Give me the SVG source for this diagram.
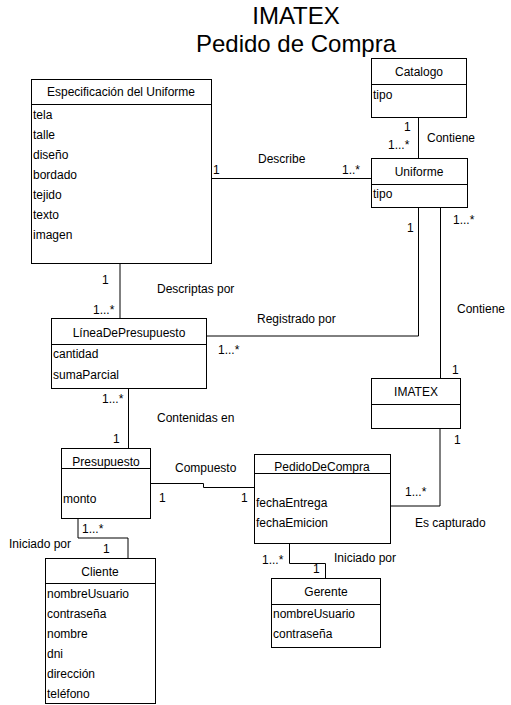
<svg xmlns="http://www.w3.org/2000/svg" width="511" height="705" viewBox="0 0 511 705">
<style>
text{font-family:"Liberation Sans",Arial,sans-serif;font-size:12px;fill:#000}
.t{font-size:24px;text-anchor:middle}
.c{text-anchor:middle}
.box{fill:#fff;stroke:#000;stroke-width:1}
.ln{fill:none;stroke:#000;stroke-width:1}
.cn{fill:none;stroke:#000;stroke-width:1}
</style>
<rect width="511" height="705" fill="#fff"/>
<text class="t" x="296" y="24">IMATEX</text>
<text class="t" x="296" y="52">Pedido de Compra</text>

<g id="connectors">
<path class="cn" d="M211.5 178.5H371.5"/>
<path class="cn" d="M418.5 117.5V158.5"/>
<path class="cn" d="M418.5 207.5V336H206.5"/>
<path class="cn" d="M440.5 207.5V378.5"/>
<path class="cn" d="M440 428.5V506H390.5"/>
<path class="cn" d="M120 263.5V318.5"/>
<path class="cn" d="M128.5 388.5V448.5"/>
<path class="cn" d="M150.5 483.5H203.5V487.5H254.5"/>
<path class="cn" d="M78 518.5V538H128V558.5"/>
<path class="cn" d="M289.5 543.5V563.5H325.5V578.5"/>
<text x="213" y="174">1</text>
<text x="342" y="174">1..*</text>
<text x="258" y="163">Describe</text>
<text x="404" y="131">1</text>
<text x="388" y="149">1...*</text>
<text x="427" y="142">Contiene</text>
<text x="407" y="232">1</text>
<text x="453" y="224">1...*</text>
<text x="457" y="313">Contiene</text>
<text x="452" y="374">1</text>
<text x="218" y="354">1...*</text>
<text x="257" y="323">Registrado por</text>
<text x="102" y="284">1</text>
<text x="93" y="314">1...*</text>
<text x="157" y="293">Descriptas por</text>
<text x="102" y="403">1...*</text>
<text x="113" y="443">1</text>
<text x="157" y="422">Contenidas en</text>
<text x="454" y="444">1</text>
<text x="405" y="496">1...*</text>
<text x="415" y="527">Es capturado</text>
<text x="175" y="472">Compuesto</text>
<text x="159" y="502">1</text>
<text x="241" y="502">1</text>
<text x="82" y="533">1...*</text>
<text x="103" y="553">1</text>
<text x="9" y="548">Iniciado por</text>
<text x="262" y="564">1...*</text>
<text x="313" y="573">1</text>
<text x="334" y="562">Iniciado por</text>
</g>

<g id="catalogo">
<rect class="box" x="371.5" y="58.5" width="95" height="59"/>
<path class="ln" d="M371.5 84.5H466.5"/>
<text class="c" x="419" y="76">Catalogo</text>
<text x="373" y="99">tipo</text>
</g>

<g id="especificacion">
<rect class="box" x="31.5" y="79.5" width="180" height="184"/>
<path class="ln" d="M31.5 104.5H211.5"/>
<text class="c" x="121" y="96">Especificación del Uniforme</text>
<text x="33" y="119">tela</text>
<text x="33" y="139">talle</text>
<text x="33" y="159">diseño</text>
<text x="33" y="179">bordado</text>
<text x="33" y="199">tejido</text>
<text x="33" y="219">texto</text>
<text x="33" y="239">imagen</text>
</g>

<g id="uniforme">
<rect class="box" x="371.5" y="158.5" width="96" height="49"/>
<path class="ln" d="M371.5 184.5H467.5"/>
<text class="c" x="419" y="176">Uniforme</text>
<text x="373" y="198">tipo</text>
</g>

<g id="linea">
<rect class="box" x="51.5" y="318.5" width="155" height="70"/>
<path class="ln" d="M51.5 344.5H206.5"/>
<text class="c" x="129" y="337">LíneaDePresupuesto</text>
<text x="53" y="358">cantidad</text>
<text x="53" y="379">sumaParcial</text>
</g>

<g id="imatex">
<rect class="box" x="371.5" y="378.5" width="89" height="50"/>
<path class="ln" d="M371.5 404.5H460.5"/>
<text class="c" x="416" y="396">IMATEX</text>
</g>

<g id="presupuesto">
<rect class="box" x="61.5" y="448.5" width="89" height="70"/>
<path class="ln" d="M61.5 468.5H150.5"/>
<text class="c" x="106" y="466">Presupuesto</text>
<text x="63" y="503">monto</text>
</g>

<g id="pedido">
<rect class="box" x="254.5" y="454.5" width="136" height="89"/>
<path class="ln" d="M254.5 473.5H390.5"/>
<text class="c" x="322" y="471">PedidoDeCompra</text>
<text x="256" y="507">fechaEntrega</text>
<text x="256" y="527">fechaEmicion</text>
</g>

<g id="gerente">
<rect class="box" x="271.5" y="578.5" width="109" height="69"/>
<path class="ln" d="M271.5 604.5H380.5"/>
<text class="c" x="326" y="596">Gerente</text>
<text x="273" y="618">nombreUsuario</text>
<text x="273" y="638">contraseña</text>
</g>

<g id="cliente">
<rect class="box" x="45.5" y="558.5" width="110" height="145"/>
<path class="ln" d="M45.5 583.5H155.5"/>
<text class="c" x="100" y="576">Cliente</text>
<text x="47" y="598">nombreUsuario</text>
<text x="47" y="618">contraseña</text>
<text x="47" y="638">nombre</text>
<text x="47" y="658">dni</text>
<text x="47" y="678">dirección</text>
<text x="47" y="698">teléfono</text>
</g>
</svg>
